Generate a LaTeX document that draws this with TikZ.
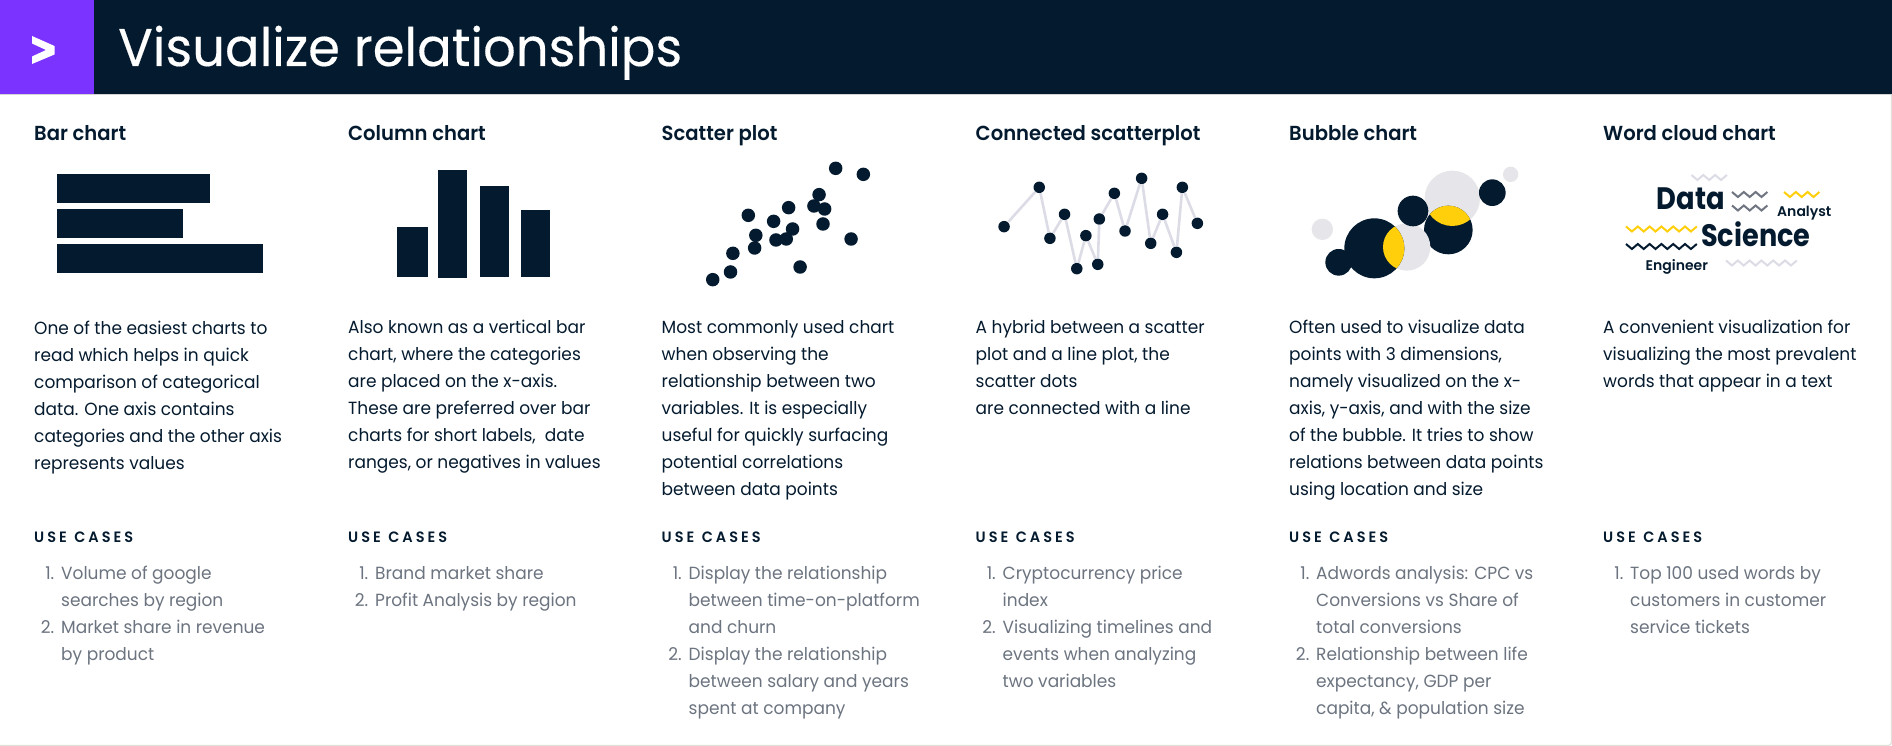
\documentclass[tikz,border=0pt]{standalone}
\usepackage{fontspec}
\usepackage{graphicx}
\setmainfont[FakeStretch=0.965,BoldFont={Poppins SemiBold}]{Poppins}
\newfontfamily\wordfont[BoldFont={Poppins SemiBold}]{Poppins}
\newfontfamily\bigwordfont{Poppins}
\newfontfamily\titlefont[FakeBold=0.25,FakeStretch=0.967]{Poppins}
\definecolor{ink}{HTML}{041A2E}
\definecolor{greytext}{HTML}{6C7480}
\definecolor{plum}{HTML}{7B33FF}
\definecolor{rulegrey}{HTML}{D4D4D4}
\definecolor{edgegrey}{HTML}{E2E0DC}
\definecolor{lightbub}{HTML}{E6E6EA}
\definecolor{lavline}{HTML}{DCDCE6}
\definecolor{sun}{HTML}{FFCF0C}
\definecolor{slate}{HTML}{6F7682}
\newcommand{\bodyset}{\fontsize{17.6}{27.15}\selectfont}
\newcommand{\rows}[1]{\begin{tabular}[t]{@{}l@{}}#1\end{tabular}}
\tikzset{
  x=1pt,y=-1pt,
  bartile/.style={fill=ink,draw=none},
  chead/.style={anchor=base west,inner sep=0pt,text=ink,font=\fontsize{20.3}{24}\selectfont\bfseries},
  cbody/.style={anchor=base west,inner sep=0pt,text=ink,font=\bodyset},
  ucase/.style={anchor=base west,inner sep=0pt,text=ink,font=\fontsize{15}{16}\selectfont\bfseries},
  litem/.style={anchor=base west,inner sep=0pt,text=greytext,font=\bodyset},
  lnum/.style={anchor=base east,inner sep=0pt,text=greytext,font=\bodyset},
  sdot/.style={circle,fill=ink,inner sep=0pt,minimum size=13.5pt},
  cdot/.style={circle,fill=ink,inner sep=0pt,minimum size=11.5pt},
  clink/.style={draw=lavline,line width=2.6pt},
  zigline/.style={line width=2pt,line join=miter},
  wordbig/.style={anchor=base west,inner sep=0pt,text=ink,font=\bigwordfont\fontsize{31}{34}\selectfont\bfseries},
  wordsmall/.style={anchor=base west,inner sep=0pt,text=ink,font=\wordfont\fontsize{14}{16}\selectfont\bfseries},
}
\newcommand{\zigz}[4]{\draw[zigline,#4] (#1,#2) foreach \k in {1,...,#3} { -- ++(5.9,5) -- ++(5.9,-5) };}
\newcommand{\ucs}{U\kern3pt S\kern3pt E\kern7.5pt C\kern3pt A\kern3pt S\kern3pt E\kern3pt S}
\begin{document}
\begin{tikzpicture}
\useasboundingbox (0,0) rectangle (1892,746);
\fill[white] (0,0) rectangle (1892,746);
% frame
\draw[edgegrey,line width=1.2pt,rounded corners=3pt] (0,745.4) -- (1891.4,745.4) -- (1891.4,94);
% header
\fill[ink] (0,0) rectangle (1892,94);
\fill[rulegrey] (0,94) rectangle (1892,95.5);
\fill[plum] (0,0) rectangle (94,94);
\fill[white] (32,36) -- (54.5,46) -- (54.5,54.5) -- (32,64) -- (32,56.5) -- (46,50) -- (32,43.5) -- cycle;
\node[anchor=base west,inner sep=0pt,text=white] (title) at (118,66) {\titlefont\fontsize{53}{60}\selectfont Visualize relationships};
% headings
\node[chead] (h1) at (34,141) {Bar chart};
\node[chead] (h2) at (348,141) {Column chart};
\node[chead] (h3) at (661.5,141) {Scatter plot};
\node[chead] (h4) at (975.5,141) {Connected scatterplot};
\node[chead] (h5) at (1289,141) {Bubble chart};
\node[chead] (h6) at (1603,141) {Word cloud chart};
% bar chart
\fill[bartile] (57,174) rectangle (210,203);
\fill[bartile] (57,209) rectangle (183,238);
\fill[bartile] (57,244) rectangle (263,273);
% column chart
\fill[bartile] (397,227) rectangle (428,277);
\fill[bartile] (438,170) rectangle (467,278);
\fill[bartile] (480,186) rectangle (509,277);
\fill[bartile] (521,210) rectangle (550,277);
% scatter
\begin{scope}[shift={(640,140)},xscale=0.3953,yscale=0.3333]
\foreach \X/\Y [count=\i] in {495/85,565/103,453/164,440/198,467/207,376/203,274/226,338/244,463/252,386/267,293/286,344/300,370/297,534/297,290/324,235/340,405/381,229/396,184/419}
  \node[sdot] (s\i) at (\X,\Y) {};
\foreach \X/\Y [count=\i] in {921/260,1010/142,1037/295,1074/223,1105/386,1128/287,1158/373,1162/237,1200/160,1227/273,1269/115,1292/310,1322/223,1357/337,1372/142,1410/250}
  \node[cdot] (c\i) at (\X,\Y) {};
\foreach \a/\b in {1/2,2/3,3/4,4/5,5/6,6/7,7/8,8/9,9/10,10/11,11/12,12/13,13/14,14/15,15/16}
  \draw[clink] (c\a) -- (c\b);
\end{scope}
% bubbles
\begin{scope}[shift={(1280,150)},scale=0.3333]
\fill[lightbub] (127,238) circle (32);
\fill[lightbub] (692,73) circle (23);
\fill[lightbub] (517,145) circle (83);
\fill[ink] (505,240) circle (73);
\begin{scope}\clip (505,240) circle (73); \fill[sun] (517,145) circle (83); \end{scope}
\fill[ink] (176,337) circle (40);
\fill[lightbub] (380,291) circle (71);
\fill[ink] (283,295) circle (90);
\begin{scope}\clip (283,295) circle (90); \fill[sun] (380,291) circle (71); \end{scope}
\fill[ink] (637,128) circle (40);
\fill[ink] (399,183) circle (46);
\end{scope}
% word cloud
\node[wordbig] (wdata) at (1656.5,210) {\scalebox{0.88}[1]{Data}};
\node[wordbig] (wsci) at (1701,247) {\scalebox{0.875}[1]{Science}};
\node[wordsmall] (wana) at (1777,216) {Analyst};
\node[wordsmall] (weng) at (1645.5,270.5) {Engineer};
\zigz{1691.5}{175}{3}{lavline}
\zigz{1732}{192}{3}{slate}
\zigz{1732}{205.5}{3}{slate}
\zigz{1784}{192}{3}{sun}
\zigz{1626}{226.5}{6}{sun}
\zigz{1626}{244}{6}{ink}
\zigz{1726}{260.5}{6}{lavline}
% body
\node[cbody] (b1) at (34,334) {\rows{One of the easiest charts to\\read which helps in quick\\comparison of categorical\\data. One axis contains\\categories and the other axis\\represents values}};
\node[cbody] (b2) at (348,333) {\rows{Also known as a vertical bar\\chart, where the categories\\are placed on the x-axis.\\These are preferred over bar\\charts for short labels,\ \ date\\ranges, or negatives in values}};
\node[cbody] (b3) at (661.5,333) {\rows{Most commonly used chart\\when observing the\\relationship between two\\variables. It is especially\\useful for quickly surfacing\\potential correlations\\between data points}};
\node[cbody] (b4) at (975.5,333) {\rows{A hybrid between a scatter\\plot and a line plot, the\\scatter dots\\are connected with a line}};
\node[cbody] (b5) at (1289,333) {\rows{Often used to visualize data\\points with 3 dimensions,\\namely visualized on the x-\\axis, y-axis, and with the size\\of the bubble. It tries to show\\relations between data points\\using location and size}};
\node[cbody] (b6) at (1603,333) {\rows{A convenient visualization for\\visualizing the most prevalent\\words that appear in a text}};
% use cases
\foreach \n/\x in {1/34,2/348,3/661.5,4/975.5,5/1289,6/1603}
  \node[ucase] (u\n) at (\x,542) {\ucs};
% lists
\node[lnum] (n11) at (54.5,579) {1.};
\node[litem] (l11) at (61,579) {\rows{Volume of google\\searches by region}};
\node[lnum] (n12) at (54.5,633) {2.};
\node[litem] (l12) at (61,633) {\rows{Market share in revenue\\by product}};
\node[lnum] (n21) at (368.5,579) {1.};
\node[litem] (l21) at (375,579) {Brand market share};
\node[lnum] (n22) at (368.5,606) {2.};
\node[litem] (l22) at (375,606) {Profit Analysis by region};
\node[lnum] (n31) at (682,579) {1.};
\node[litem] (l31) at (688.5,579) {\rows{Display the relationship\\between time-on-platform\\and churn}};
\node[lnum] (n32) at (682,660) {2.};
\node[litem] (l32) at (688.5,660) {\rows{Display the relationship\\between salary and years\\spent at company}};
\node[lnum] (n41) at (996,579) {1.};
\node[litem] (l41) at (1002.5,579) {\rows{Cryptocurrency price\\index}};
\node[lnum] (n42) at (996,633) {2.};
\node[litem] (l42) at (1002.5,633) {\rows{Visualizing timelines and\\events when analyzing\\two variables}};
\node[lnum] (n51) at (1309.5,579) {1.};
\node[litem] (l51) at (1316,579) {\rows{Adwords analysis: CPC vs\\Conversions vs Share of\\total conversions}};
\node[lnum] (n52) at (1309.5,660) {2.};
\node[litem] (l52) at (1316,660) {\rows{Relationship between life\\expectancy, GDP per\\capita, \& population size}};
\node[lnum] (n61) at (1623.5,579) {1.};
\node[litem] (l61) at (1630,579) {\rows{Top 100 used words by\\customers in customer\\service tickets}};
\end{tikzpicture}
\end{document}
